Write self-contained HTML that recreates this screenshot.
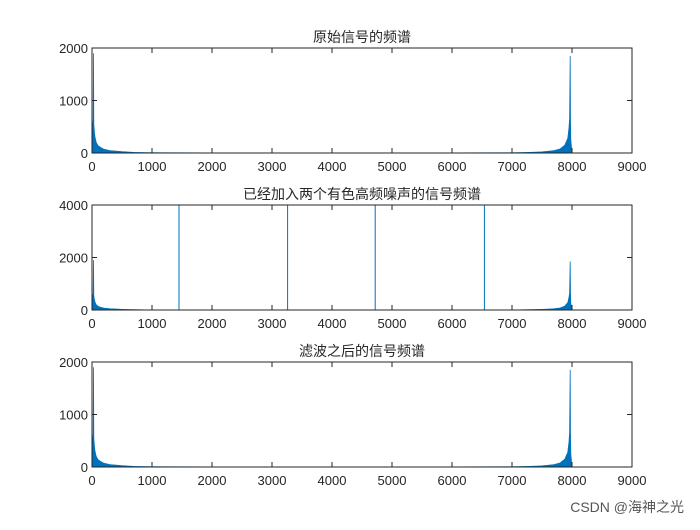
<!DOCTYPE html>
<html><head><meta charset="utf-8"><style>
body{margin:0;background:#fff;font-family:"Liberation Sans","Noto Sans CJK SC",sans-serif}
svg text{font-family:"Liberation Sans","Noto Sans CJK SC",sans-serif;fill:#262626}
</style></head><body>
<svg id="c" width="700" height="525" xmlns="http://www.w3.org/2000/svg">
<rect width="700" height="525" fill="#fff"/>
<text x="684" y="512" font-size="14" text-anchor="end" fill="#555" style="fill:#555">CSDN @海神之光</text>
</svg>
<script>
const xTicks=[0,1000,2000,3000,4000,5000,6000,7000,8000,9000];
const titles=["原始信号的频谱","已经加入两个有色高频噪声的信号频谱","滤波之后的信号频谱"];
const yMaxes=[2000,4000,2000];
const yTicks1=[0,1000,2000];
const yTicks2=[0,2000,4000];
const yTicks3=[0,1000,2000];
const envFreq=[0,10,20,25,30,40,50,70,100,150,200,300,400,500,700,900,1200,2000,3000,4000,5000,6000,6800,7100,7300,7500,7600,7700,7800,7880,7930,7950,7960,7970,7975,7980,8000];
const envMag=[300,450,650,1900,550,400,300,200,140,100,70,45,35,25,12,6,4,3,3,3,3,3,4,6,12,22,32,45,75,150,280,480,650,1850,600,250,0];
const noiseFreq=[1450,3260,4720,6540];
const noiseMag=[4000,4000,4000,4000];
const svg=document.getElementById('c');
const NS="http://www.w3.org/2000/svg";
const X0=92,X1=632,tops=[48,205,362],H=105;
const xs=v=>X0+(v/9000)*(X1-X0);
function mk(t,a){const e=document.createElementNS(NS,t);for(const k in a)e.setAttribute(k,a[k]);svg.appendChild(e);return e;}
const yTickSets=[yTicks1,yTicks2,yTicks3];
for(let p=0;p<3;p++){
  const top=tops[p],bot=top+H,ym=yMaxes[p];
  const ys=v=>bot-(v/ym)*H;
  let pts=envFreq.map((f,i)=>xs(f)+','+ys(envMag[i])).join(' ');
  pts+=' '+xs(envFreq[envFreq.length-1])+','+bot+' '+xs(0)+','+bot;
  const poly=mk('polygon',{points:pts,fill:'#0072BD',stroke:'#0072BD','stroke-width':0.8});
  
  
  if(p===1){noiseFreq.forEach((f,i)=>{
    const l=mk('line',{x1:xs(f),x2:xs(f),y1:bot,y2:ys(noiseMag[i]),stroke:'#0072BD','stroke-width':1});
    
    
  });}
  const box=mk('rect',{x:X0,y:top,width:X1-X0,height:H,fill:'none',stroke:'#262626','stroke-width':1});
  
  
  xTicks.forEach(v=>{
    mk('line',{x1:xs(v),x2:xs(v),y1:bot,y2:bot-5,stroke:'#262626'});
    mk('line',{x1:xs(v),x2:xs(v),y1:top,y2:top+5,stroke:'#262626'});
    const t=mk('text',{x:xs(v),y:bot+18,'font-size':13,'text-anchor':'middle'});t.textContent=v;
    
    
  });
  yTickSets[p].forEach(v=>{
    mk('line',{x1:X0,x2:X0+5,y1:ys(v),y2:ys(v),stroke:'#262626'});
    mk('line',{x1:X1,x2:X1-5,y1:ys(v),y2:ys(v),stroke:'#262626'});
    const t=mk('text',{x:X0-4,y:ys(v)+5,'font-size':13,'text-anchor':'end'});t.textContent=v;
    
    
  });
  const tt=mk('text',{x:(X0+X1)/2,y:top-6,'font-size':14,'text-anchor':'middle'});tt.textContent=titles[p];
  
  
}
</script>
</body></html>
